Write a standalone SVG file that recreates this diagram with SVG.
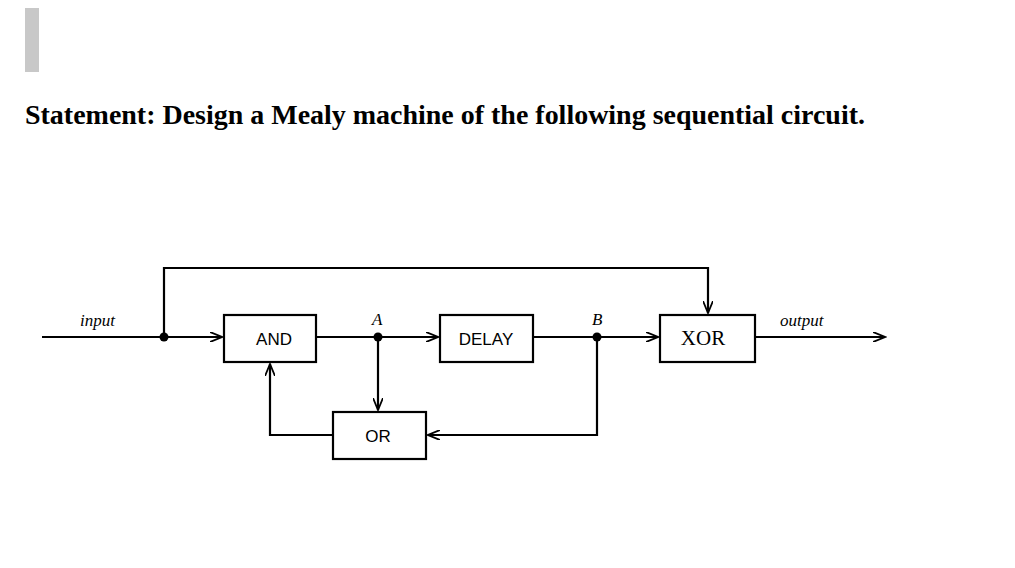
<svg xmlns="http://www.w3.org/2000/svg" width="1015" height="568" viewBox="0 0 1015 568">
<style>
.box{fill:#fff;stroke:#000;stroke-width:2.2}
.w{fill:none;stroke:#000;stroke-width:2.2}
.s{font-family:"Liberation Sans",Arial,sans-serif;font-size:17px}
.i{font-family:"Liberation Serif",serif;font-style:italic;font-size:17px}
</style>
<defs><marker id="a" markerWidth="14" markerHeight="10" refX="12" refY="5" orient="auto" markerUnits="userSpaceOnUse"><path d="M0,0 L12,5 L0,10" fill="none" stroke="#000" stroke-width="1.8"/></marker></defs>
<rect width="1015" height="568" fill="#fff"/>
<rect x="25" y="8" width="14" height="64" fill="#c8c8c8"/>
<text x="25" y="124" font-family="Liberation Serif,serif" font-weight="bold" font-size="27" textLength="840" lengthAdjust="spacingAndGlyphs">Statement: Design a Mealy machine of the following sequential circuit.</text>
<g id="connectors">
<path class="w" d="M42,337 H222" marker-end="url(#a)"/>
<path class="w" d="M164,337 V268 H708 V313" marker-end="url(#a)"/>
<path class="w" d="M316,337 H438" marker-end="url(#a)"/>
<path class="w" d="M378,337 V410" marker-end="url(#a)"/>
<path class="w" d="M533,337 H658" marker-end="url(#a)"/>
<path class="w" d="M597,337 V435 H428" marker-end="url(#a)"/>
<path class="w" d="M333,435 H270 V364" marker-end="url(#a)"/>
<path class="w" d="M755,337 H885" marker-end="url(#a)"/>
<circle cx="164" cy="337" r="4.5"/><circle cx="378" cy="337" r="4.5"/><circle cx="597" cy="337" r="4.5"/>
</g>
<text class="i" x="80" y="326">input</text>
<text class="i" x="372" y="325">A</text>
<text class="i" x="592" y="325">B</text>
<text class="i" x="780" y="326">output</text>
<g id="and"><rect class="box" x="224" y="315" width="92" height="47"/><text class="s" x="274" y="345" text-anchor="middle">AND</text></g>
<g id="delay"><rect class="box" x="440" y="315" width="93" height="47"/><text class="s" x="486" y="345" text-anchor="middle">DELAY</text></g>
<g id="xor"><rect class="box" x="660" y="315" width="95" height="47"/><text x="703" y="345" text-anchor="middle" font-family="Liberation Serif,serif" font-size="21">XOR</text></g>
<g id="or"><rect class="box" x="333" y="412" width="93" height="47"/><text class="s" x="378" y="442" text-anchor="middle">OR</text></g>
</svg>
